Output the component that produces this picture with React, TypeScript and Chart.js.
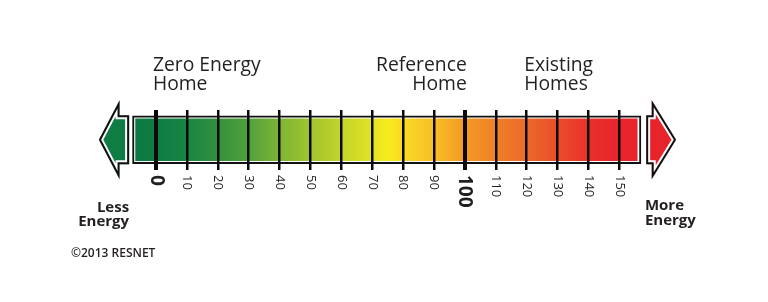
import { useEffect, useRef } from 'react';
import { Chart, registerables } from 'chart.js';

Chart.register(...registerables);

// ---------------- data ----------------
const categories = ['HERS Index'];
const tickValues = [0, 10, 20, 30, 40, 50, 60, 70, 80, 90, 100, 110, 120, 130, 140, 150];
const boldTicks = [0, 100];
const scaleMin = -20;
const scaleMax = 170;
const frameRange: [number, number] = [-7.6, 157.0];
const fillRange: [number, number] = [-6.6, 155.8];
const stopValues = [-7, 0, 10, 20, 30, 40, 50, 60, 70, 75, 80, 90, 100, 110, 120, 130, 140, 150, 156];
const stopColors = [
  '#0d7a42', '#0f7c43', '#178543', '#33903d', '#52a03a', '#7db536', '#a1c42f', '#c3d42a',
  '#e2e325', '#f8ec1d', '#f9d925', '#f7bf25', '#f39a25', '#ef8027', '#ec6a29', '#e94d2a',
  '#e8312b', '#e7242b', '#e7232b',
];
const headingLines = [['Zero Energy', 'Home'], ['Reference', 'Home'], ['Existing', 'Homes']];
const headingValues = [-1, 100.6, 119.2];
const headingAligns: CanvasTextAlign[] = ['left', 'right', 'left'];
const lessLabel = ['Less', 'Energy'];
const moreLabel = ['More', 'Energy'];
const copyright = '©2013 RESNET';
// arrow extents in scale units: tip, back of head, end of shaft
const lessArrow = [-18.5, -11.8, -8.7];
const moreArrow = [168.4, 160.5, 158.7];

const FONT = '"Open Sans", "Noto Sans", sans-serif';
const INK = '#231f20';

function arrowPath(ctx: CanvasRenderingContext2D, tip: number, head: number, tail: number, cy: number) {
  const hh = 39.5;
  const sh = 24.5;
  ctx.beginPath();
  ctx.moveTo(tip, cy);
  ctx.lineTo(head, cy - hh);
  ctx.lineTo(head, cy - sh);
  ctx.lineTo(tail, cy - sh);
  ctx.lineTo(tail, cy + sh);
  ctx.lineTo(head, cy + sh);
  ctx.lineTo(head, cy + hh);
  ctx.closePath();
}

function drawArrow(ctx: CanvasRenderingContext2D, xs: any, vals: number[], cy: number, color: string) {
  const [tip, head, tail] = vals.map((v) => xs.getPixelForValue(v));
  ctx.save();
  arrowPath(ctx, tip, head, tail, cy);
  ctx.fillStyle = color;
  ctx.fill();
  ctx.clip();
  ctx.lineJoin = 'miter';
  ctx.miterLimit = 10;
  ctx.strokeStyle = '#ffffff';
  ctx.lineWidth = 8;
  ctx.stroke();
  ctx.strokeStyle = '#111111';
  ctx.lineWidth = 4;
  ctx.stroke();
  ctx.restore();
}

const decorPlugin = {
  id: 'decor',
  beforeDatasetsDraw(chart: any) {
    const ctx: CanvasRenderingContext2D = chart.ctx;
    const xs = chart.scales.x;
    const cy = chart.scales.y.getPixelForValue(0);
    drawArrow(ctx, xs, lessArrow, cy, stopColors[1]);
    drawArrow(ctx, xs, moreArrow, cy, stopColors[stopColors.length - 1]);
  },
  afterDraw(chart: any) {
    const ctx: CanvasRenderingContext2D = chart.ctx;
    const xs = chart.scales.x;
    ctx.save();
    ctx.fillStyle = INK;
    // tick labels, rotated clockwise
    tickValues.forEach((v) => {
      const x = xs.getPixelForValue(v);
      const bold = boldTicks.includes(v);
      ctx.save();
      ctx.translate(x, 175);
      ctx.rotate(Math.PI / 2);
      ctx.font = bold ? `bold 19px ${FONT}` : `13px ${FONT}`;
      ctx.textAlign = 'left';
      ctx.textBaseline = 'middle';
      ctx.fillText(String(v), 0, 0);
      ctx.restore();
    });
    // headings
    ctx.font = `500 19.3px ${FONT}`;
    ctx.textBaseline = 'alphabetic';
    headingLines.forEach((lines, i) => {
      ctx.textAlign = headingAligns[i];
      const x = xs.getPixelForValue(headingValues[i]);
      lines.forEach((t, j) => ctx.fillText(t, x, 71 + j * 19));
    });
    // less / more energy
    ctx.font = `bold 15px ${FONT}`;
    ctx.textAlign = 'right';
    const lx = xs.getPixelForValue(lessArrow[2]);
    lessLabel.forEach((t, j) => ctx.fillText(t, lx, 211.5 + j * 14.5));
    ctx.textAlign = 'left';
    const mx = xs.getPixelForValue(moreArrow[2] - 0.4);
    moreLabel.forEach((t, j) => ctx.fillText(t, mx, 210 + j * 14.5));
    // copyright
    ctx.font = `600 12px ${FONT}`;
    ctx.fillText(copyright, 71, 257);
    ctx.restore();
  },
};

export default function App() {
  const ref = useRef<HTMLCanvasElement>(null);
  useEffect(() => {
    let chart: Chart | null = null;
    let cancelled = false;
    const make = () => {
      if (cancelled || !ref.current) return;
      chart = new Chart(ref.current, {
        type: 'bar',
        data: {
          labels: categories,
          datasets: [
            {
              data: [fillRange] as any,
              grouped: false,
              barThickness: 42,
              borderWidth: 0,
              backgroundColor: (c: any) => {
                const ch = c.chart;
                if (!ch.chartArea) return stopColors[0];
                const xs = ch.scales.x;
                const a = xs.getPixelForValue(stopValues[0]);
                const b = xs.getPixelForValue(stopValues[stopValues.length - 1]);
                const g = ch.ctx.createLinearGradient(a, 0, b, 0);
                const span = stopValues[stopValues.length - 1] - stopValues[0];
                stopValues.forEach((v, i) => g.addColorStop((v - stopValues[0]) / span, stopColors[i]));
                return g;
              },
            },
            {
              data: [frameRange] as any,
              grouped: false,
              barThickness: 48,
              borderWidth: 2,
              borderSkipped: false,
              borderColor: '#111111',
              backgroundColor: '#ffffff',
            },
          ],
        },
        options: {
          indexAxis: 'y',
          responsive: false,
          animation: false,
          events: [],
          layout: { padding: { left: 94.23, right: 86.93, top: 110, bottom: 132.5 } },
          plugins: { legend: { display: false }, tooltip: { enabled: false } },
          scales: {
            x: {
              type: 'linear',
              min: scaleMin,
              max: scaleMax,
              afterBuildTicks: (s: any) => {
                s.ticks = tickValues.map((v) => ({ value: v }));
              },
              ticks: { display: false },
              border: { display: false },
              grid: {
                z: 1,
                drawTicks: false,
                color: '#0a0a0a',
                lineWidth: (c: any) => (c.tick && boldTicks.includes(c.tick.value) ? 4 : 2.5),
              },
            },
            y: { display: false },
          },
        },
        plugins: [decorPlugin],
      } as any);
    };
    const fonts = [`500 19.3px "Open Sans"`, `bold 15px "Open Sans"`, `600 12px "Open Sans"`, `13px "Open Sans"`];
    Promise.all(fonts.map((f) => document.fonts.load(f))).then(make, make);
    return () => {
      cancelled = true;
      if (chart) chart.destroy();
    };
  }, []);
  return (
    <div style={{ position: 'fixed', left: 0, top: 0, width: 768, height: 302, background: '#fff' }}>
      <canvas ref={ref} width={768} height={302} style={{ display: 'block' }} />
    </div>
  );
}
